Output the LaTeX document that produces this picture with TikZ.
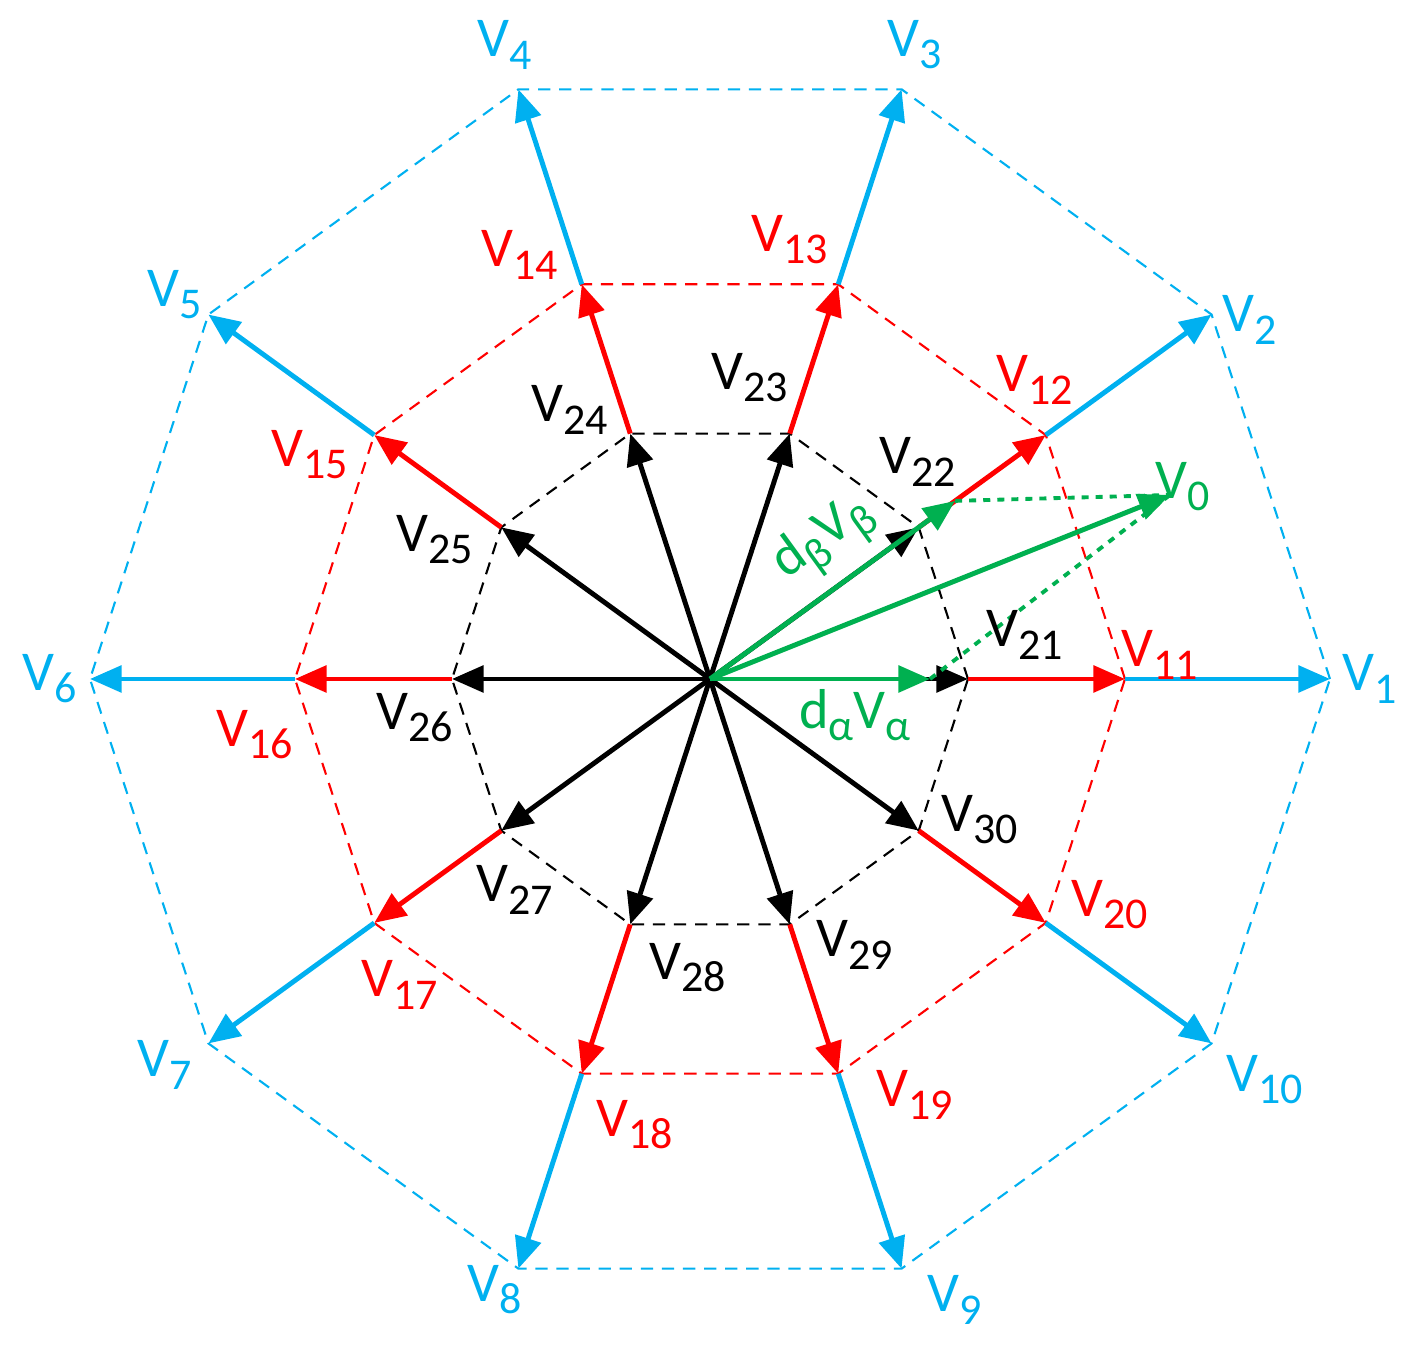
\documentclass[tikz,border=0pt]{standalone}
\usepackage{fontspec}
\setmainfont{Carlito}
\usetikzlibrary{arrows.meta}
\definecolor{cblue}{RGB}{0,176,240}
\definecolor{cgreen}{RGB}{0,176,80}
\newcommand\lsub[1]{\raisebox{-0.45ex}{\fontsize{12.5}{13}\selectfont #1}}
\tikzset{
 vec/.style={line width=1.4pt,-{Triangle[length=9pt,width=7.5pt]}},
 poly/.style={line width=0.6pt,dash pattern=on 3.5pt off 2.5pt},
 lab/.style={font=\fontsize{16}{18}\selectfont,inner sep=0pt}
}
\begin{document}
\begin{tikzpicture}
\useasboundingbox (-7.10,-6.70) rectangle (7.18,6.79);
\foreach \i in {1,...,10}{
 \pgfmathsetmacro\ang{(\i-1)*36}
 \coordinate (b\i) at (\ang:6.2);
 \coordinate (r\i) at (\ang:4.15);
 \coordinate (k\i) at (\ang:2.58);
}
\coordinate (O) at (0,0);
\draw[poly,cblue] (b1)--(b2)--(b3)--(b4)--(b5)--(b6)--(b7)--(b8)--(b9)--(b10)--cycle;
\draw[poly,red] (r1)--(r2)--(r3)--(r4)--(r5)--(r6)--(r7)--(r8)--(r9)--(r10)--cycle;
\draw[poly,black] (k1)--(k2)--(k3)--(k4)--(k5)--(k6)--(k7)--(k8)--(k9)--(k10)--cycle;
\foreach \i in {1,...,10}{
 \draw[vec,cblue] (r\i)--(b\i);
 \draw[vec,red] (k\i)--(r\i);
 \draw[vec,black] (O)--(k\i);
}
% green
\coordinate (ga) at (2.20,0);
\coordinate (gb) at (36:3.03);
\coordinate (g0) at (4.60,1.84);
\draw[line width=1.1pt,cgreen,dash pattern=on 2pt off 2pt] (gb)--(g0);
\draw[line width=1.1pt,cgreen,dash pattern=on 2pt off 2pt] (ga)--(g0);
\draw[vec,cgreen] (O)--(ga);
\draw[vec,cgreen] (O)--(gb);
\draw[vec,cgreen] (O)--(g0);
% labels blue
\begin{scope}[lab,cblue]
\node (l1) at (6.60,0.0) {V\lsub{1}};
\node (l2) at (5.40,3.59) {V\lsub{2}};
\node (l3) at (2.05,6.34) {V\lsub{3}};
\node (l4) at (-2.05,6.34) {V\lsub{4}};
\node (l5) at (-5.35,3.84) {V\lsub{5}};
\node (l6) at (-6.60,0.0) {V\lsub{6}};
\node (l7) at (-5.45,-3.86) {V\lsub{7}};
\node (l8) at (-2.15,-6.11) {V\lsub{8}};
\node (l9) at (2.45,-6.21) {V\lsub{9}};
\node (l10) at (5.55,-4.01) {V\lsub{10}};
\end{scope}
\begin{scope}[lab,red]
\node (l11) at (4.50,0.24) {V\lsub{11}};
\node (l12) at (3.25,2.99) {V\lsub{12}};
\node (l13) at (0.80,4.39) {V\lsub{13}};
\node (l14) at (-1.90,4.24) {V\lsub{14}};
\node (l15) at (-4.00,2.24) {V\lsub{15}};
\node (l16) at (-4.55,-0.56) {V\lsub{16}};
\node (l17) at (-3.10,-3.06) {V\lsub{17}};
\node (l18) at (-0.75,-4.46) {V\lsub{18}};
\node (l19) at (2.05,-4.16) {V\lsub{19}};
\node (l20) at (4.00,-2.26) {V\lsub{20}};
\end{scope}
\begin{scope}[lab,black]
\node (l21) at (3.15,0.44) {V\lsub{21}};
\node (l22) at (2.08,2.17) {V\lsub{22}};
\node (l23) at (0.40,3.01) {V\lsub{23}};
\node (l24) at (-1.40,2.69) {V\lsub{24}};
\node (l25) at (-2.75,1.39) {V\lsub{25}};
\node (l26) at (-2.95,-0.39) {V\lsub{26}};
\node (l27) at (-1.95,-2.11) {V\lsub{27}};
\node (l28) at (-0.22,-2.89) {V\lsub{28}};
\node (l29) at (1.45,-2.66) {V\lsub{29}};
\node (l30) at (2.70,-1.41) {V\lsub{30}};
\end{scope}
\begin{scope}[lab,cgreen]
\node (l0) at (4.73,1.92) {V\lsub{0}};
\node[rotate=36] (lb) at (1.15,1.39) {d\lsub{β}V\lsub{β}};
\node (la) at (1.45,-0.36) {d\lsub{α}V\lsub{α}};
\end{scope}
\end{tikzpicture}
\end{document}
